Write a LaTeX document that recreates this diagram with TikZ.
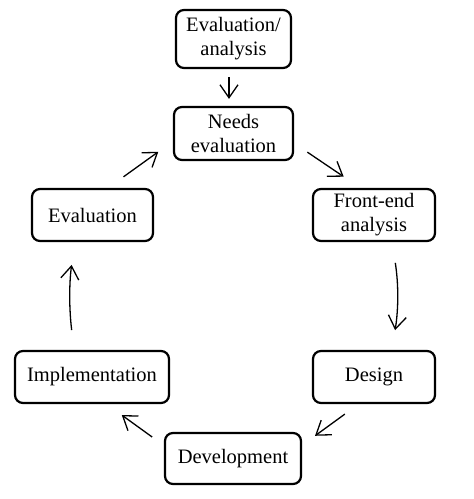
\documentclass[tikz,border=0pt]{standalone}
\usepackage{fontspec}
\setmainfont{Liberation Serif}
\usetikzlibrary{arrows.meta}

\tikzset{
  box/.style={draw, rounded corners=8pt, line width=2.2pt, align=center, inner sep=0pt,
    font=\fontsize{20.5}{24}\selectfont},
  arr/.style={line width=1.3pt, -{Straight Barb[length=13pt,width=18pt]}}
}

\begin{document}
\begin{tikzpicture}[x=1pt,y=1pt]

\useasboundingbox (0,0) rectangle (474,499);

\node[box, minimum width=115pt, minimum height=58pt] (evalan) at (233.5,460) {Evaluation/\\analysis};
\node[box, minimum width=119pt, minimum height=53pt] (needs) at (233.5,365.5) {Needs\\evaluation};
\node[box, minimum width=121pt, minimum height=52pt] (evalu) at (92.5,284) {Evaluation};
\node[box, minimum width=122pt, minimum height=52pt] (front) at (374,284) {Front-end\\analysis};
\node[box, minimum width=154pt, minimum height=52pt] (impl) at (92,122) {Implementation};
\node[box, minimum width=122pt, minimum height=52pt] (design) at (374,122) {Design};
\node[box, minimum width=136pt, minimum height=51pt] (devel) at (233,40.5) {Development};


\draw[arr, shorten <=8pt, shorten >=7pt] ([xshift=-4.5pt]evalan.south) -- ([xshift=-4.5pt]needs.north);
\draw[arr, shorten <=19pt, shorten >=18pt] ([xshift=15.6pt]evalu.north) -- ([yshift=-7.8pt]needs.west);
\draw[arr, shorten <=16pt, shorten >=20pt] ([yshift=-9.7pt]needs.east) -- ([xshift=-13.7pt]front.north);
\draw[arr, shorten <=21pt, shorten >=20pt] ([xshift=18pt]front.south) to[bend left=9] ([xshift=18pt]design.north);
\draw[arr, shorten <=17pt, shorten >=16pt] ([xshift=-15.4pt]design.south) -- ([yshift=13.3pt]devel.east);
\draw[arr, shorten <=14.5pt, shorten >=18.7pt] ([yshift=13pt]devel.west) -- ([xshift=14.6pt]impl.south);
\draw[arr, shorten <=20pt, shorten >=23pt] ([xshift=-18pt]impl.north) to[bend left=7] ([xshift=-18pt]evalu.south);

\end{tikzpicture}
\end{document}
